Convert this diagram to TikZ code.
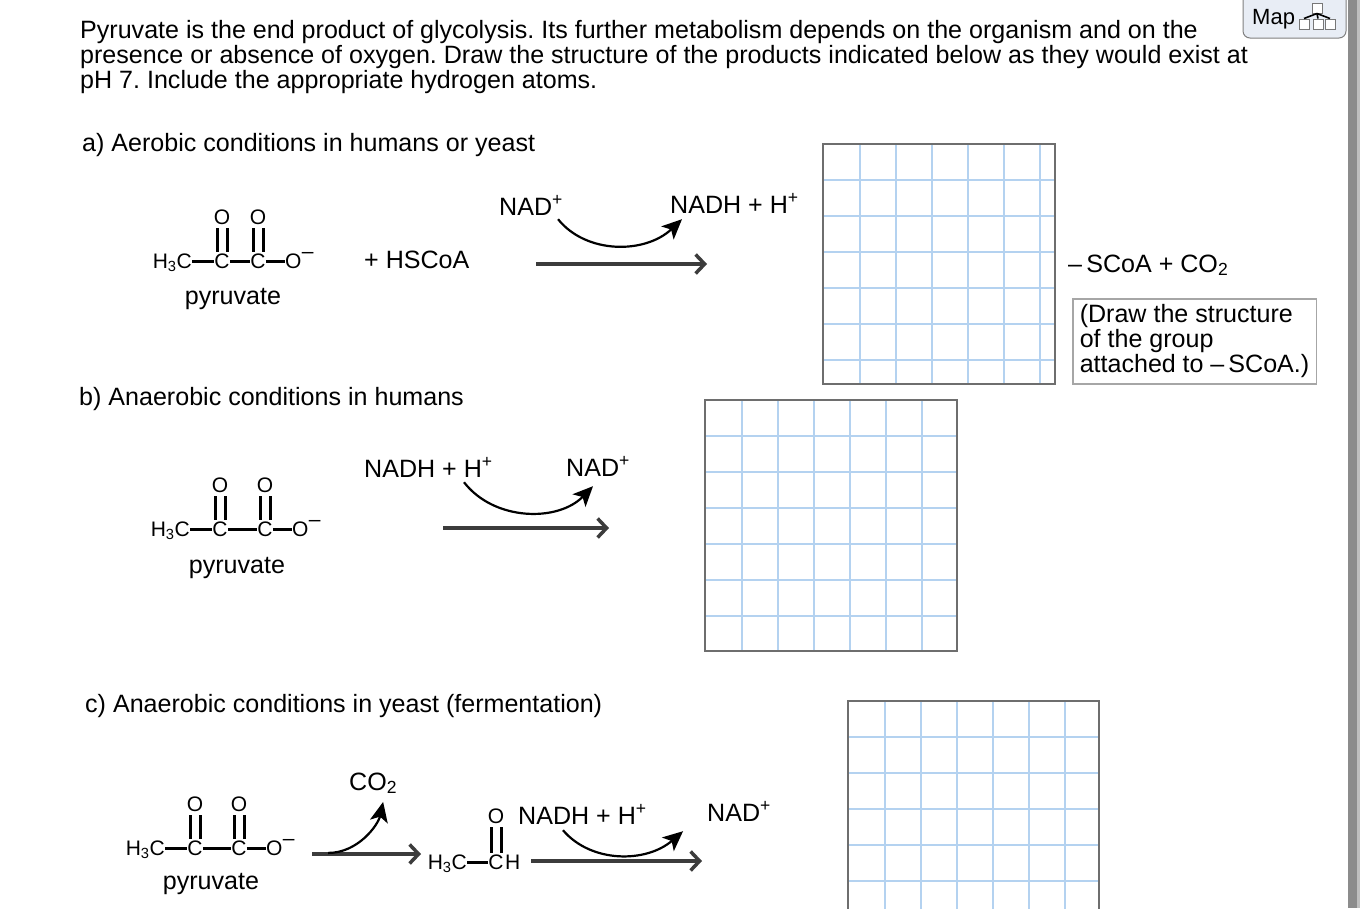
\documentclass[tikz,border=0pt]{standalone}
\usepackage{fontspec}
\setmainfont{Liberation Sans}
\usetikzlibrary{arrows.meta}
\newcommand{\bigtext}{\fontsize{25.07}{25}\selectfont}
\newcommand{\atomtext}{\fontsize{21}{21}\selectfont}
\newcommand{\answergrid}[5]
{   \foreach \k in {1,...,6}
        {\draw[gridline] ({#1+36*\k+1},#2) -- ({#1+36*\k+1},{#2+#4});}
    \foreach \k in {1,...,#5}
        {\draw[gridline] (#1,{#2+36*\k}) -- ({#1+#3},{#2+36*\k});}
    \draw[gridborder] (#1,#2) rectangle ({#1+#3},{#2+#4});
}
\newcommand{\doublebond}[2]
{   \draw[bond] ([xshift=-5pt,yshift=2pt]#1.north) -- ([xshift=-5pt,yshift=-4pt]#2.south);
    \draw[bond] ([xshift=5pt,yshift=2pt]#1.north) -- ([xshift=5pt,yshift=-4pt]#2.south);
}
\newcommand{\pyruvate}[6]
{   \node[atom] (#1c) at (#2,#4) {C};
    \node[atom] (#1d) at ({#2+#3},#4) {C};
    \node[atom, anchor=east] (#1me) at ({#2-30},#4) {H\textsubscript{3}C};
    \node[atom, anchor=west] (#1o) at ({#2+#3+27},#4) {O};
    \node[atom, anchor=west] (#1neg) at (#1o.east) {\raisebox{10pt}{–}};
    \node[atom] (#1ok) at (#2,{#4-44}) {O};
    \node[atom] (#1oc) at ({#2+#3},{#4-44}) {O};
    \node[label] (#1name) at (#5,#6) {pyruvate};
    \draw[bond] (#1me.east) -- (#1c.west);
    \draw[bond] (#1c.east) -- (#1d.west);
    \draw[bond] (#1d.east) -- (#1o.west);
    \doublebond{#1c}{#1ok}
    \doublebond{#1d}{#1oc}
}
\begin{document}
\begin{tikzpicture}
        [   x = 1pt
        ,   y = -1pt
        ,   label/.style =
            {   font = \bigtext
            ,   inner sep = 0pt
            }
        ,   atom/.style =
            {   font = \atomtext
            ,   inner sep = 0pt
            ,   text height = 14pt
            ,   text depth = 0pt
            }
        ,   bond/.style =
            {   line width = 3pt
            ,   black
            }
        ,   gridline/.style =
            {   line width = 1.3pt
            ,   color = gridblue
            }
        ,   gridborder/.style =
            {   line width = 1.3pt
            ,   color = bordergray
            }
        ,   mainarrow/.style =
            {   line width = 3.5pt
            ,   color = arrowgray
            ,   -{Straight Barb[length=9pt,width=19pt,line width=3.5pt]}
            }
        ,   curvearrow/.style =
            {   line width = 2.2pt
            ,   black
            ,   -{Stealth[length=20pt,width=18pt,inset=5pt]}
            }
        ,   mapbox/.style =
            {   draw = mapline
            ,   fill = white
            ,   line width = 1pt
            ,   minimum size = 10pt
            ,   inner sep = 0pt
            }
        ]
        \definecolor{gridblue}{HTML}{B4D2F0}
        \definecolor{bordergray}{HTML}{6E6E6E}
        \definecolor{arrowgray}{HTML}{3C3C3C}
        \definecolor{mapline}{HTML}{777777}
        \definecolor{mapfill}{HTML}{E8EDF5}
        \useasboundingbox (0,0) rectangle (1360,908);
        \clip (0,0) rectangle (1360,908);
        \fill[white] (0,0) rectangle (1360,908);
        \fill[color = black!45] (1348,0) rectangle (1357,908);
        \fill[color = black!25] (1357,0) rectangle (1360,908);

        \node[label, anchor = base west, align = flush left, text width = 1200pt] (intro) at (80,38)
            {\frenchspacing Pyruvate is the end product of glycolysis. Its further metabolism depends on the organism and on the\\
            presence or absence of oxygen. Draw the structure of the products indicated below as they would exist at\\
            pH 7. Include the appropriate hydrogen atoms.};

        \draw[draw = black!50, fill = mapfill, line width = 1pt, rounded corners = 7pt]
            (1243,-10) rectangle (1346,38);
        \node[font = \fontsize{22}{22}\selectfont, inner sep = 0pt, anchor = base west] (maptext) at (1252,24) {Map};
        \node[mapbox] (maptop) at (1317,8) {};
        \node[mapbox] (mapleft) at (1304,24) {};
        \node[mapbox] (mapmid) at (1318,24) {};
        \node[mapbox] (mapright) at (1330,24) {};
        \draw[line width = 1.6pt] (maptop.south) -- (mapleft.north);
        \draw[line width = 1.6pt] (maptop.south) -- (mapright.north);
        \draw[line width = 1.6pt] (maptop.south) -- (mapmid.north);

        \node[label, anchor = base west] (parta) at (82,151) {a) Aerobic conditions in humans or yeast};
        \pyruvate{pa}{222}{36}{261}{233}{299}
        \node[label, anchor = base west] (hscoa) at (364,268) {+ HSCoA};
        \node[label, anchor = base west] (nada) at (499,215) {NAD\textsuperscript{+}};
        \node[label, anchor = base west] (nadha) at (670,213) {NADH + H\textsuperscript{+}};
        \coordinate (arrowas) at (536,264);
        \coordinate (arrowae) at (707,264);
        \draw[mainarrow] (arrowas) -- (arrowae);
        \draw[curvearrow] ([shift={(-5,4)}]nada.south east) .. controls +(28,35) and +(-37,35) .. ([shift={(12,6)}]nadha.south west);
        \answergrid{823}{144}{232}{240}{6}
        \node[label, anchor = base west] (scoa) at (1068,272) {–\,SCoA + CO\textsubscript{2}};
        \node[label, anchor = north west, align = flush left, draw = black!35, line width = 1.5pt, inner xsep = 7pt
             , minimum height = 85pt, text width = 229.5pt] (scoabox) at (1072,298)
            {(Draw the structure\\of the group\\attached to –\,SCoA.)};

        \node[label, anchor = base west] (partb) at (79,405) {b) Anaerobic conditions in humans};
        \pyruvate{pb}{220}{45}{529}{237}{568}
        \node[label, anchor = base west] (nadhb) at (364,477) {NADH + H\textsuperscript{+}};
        \node[label, anchor = base west] (nadb) at (566,476) {NAD\textsuperscript{+}};
        \coordinate (arrowbs) at (443,528);
        \coordinate (arrowbe) at (609,528);
        \draw[mainarrow] (arrowbs) -- (arrowbe);
        \draw[curvearrow] ([shift={(100,5)}]nadhb.south west) .. controls +(30,39) and +(-35,36) .. ([shift={(27,10)}]nadb.south west);
        \answergrid{705}{400}{252}{251}{6}

        \node[label, anchor = base west] (partc) at (85,712) {c) Anaerobic conditions in yeast (fermentation)};
        \pyruvate{pc}{195}{44}{848}{211}{884}
        \node[label, anchor = base west] (cotwo) at (349,790) {CO\textsubscript{2}};
        \coordinate (arrowcs) at (312,854);
        \coordinate (arrowce) at (421,854);
        \draw[mainarrow] (arrowcs) -- (arrowce);
        \draw[curvearrow] ([shift={(-45,59)}]cotwo.south) .. controls +(30,0) and +(-5,23) .. ([shift={(10,8)}]cotwo.south);
        \node[atom] (aldc) at (496,862) {C};
        \node[atom, anchor = east] (aldme) at (467,862) {H\textsubscript{3}C};
        \node[atom, anchor = west] (aldh) at (505,862) {H};
        \node[atom] (aldo) at (496,816) {O};
        \draw[bond] (aldme.east) -- (aldc.west);
        \doublebond{aldc}{aldo}
        \node[label, anchor = base west] (nadhc) at (518,824) {NADH + H\textsuperscript{+}};
        \node[label, anchor = base west] (nadc) at (707,821) {NAD\textsuperscript{+}};
        \coordinate (arrowds) at (531,861);
        \coordinate (arrowde) at (702,861);
        \draw[mainarrow] (arrowds) -- (arrowde);
        \draw[curvearrow] ([shift={(45,6)}]nadhc.south west) .. controls +(28,33) and +(-37,32) .. ([shift={(-56,10)}]nadc.south);
        \answergrid{848}{701}{251}{240}{6}
    \end{tikzpicture}
\end{document}
